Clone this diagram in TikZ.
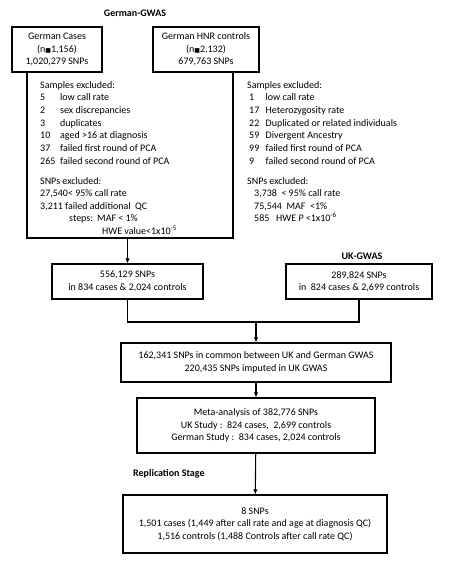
\documentclass[tikz,border=0pt]{standalone}
\usepackage{fontspec}
\setmainfont{Carlito}
\newfontfamily\symfont{DejaVu Sans}
\usetikzlibrary{arrows.meta}
\newcommand{\sq}{{\symfont\fontsize{6}{6}\selectfont ■}}

\begin{document}
\begin{tikzpicture}[x=1pt,y=-1pt,
  box/.style={draw, line width=1.1pt, align=center, inner sep=0pt, font=\fontsize{10}{12.5}\selectfont},
  txt/.style={anchor=base west, inner sep=0pt, font=\fontsize{10}{12.5}\selectfont},
  head/.style={inner sep=0pt, font=\fontsize{10}{12}\selectfont\bfseries},
  link/.style={line width=1.1pt},
  arr/.style={link, -{Latex[length=5pt,width=4.5pt]}}]
  \useasboundingbox[fill=white] (0,0) rectangle (469,563);
  %Headings
  \node[head] (gerhead) at (135,13) {German-GWAS};
  \node[head] (ukhead) at (362,256) {UK-GWAS};
  \node[head, anchor=west] (rephead) at (133,474) {Replication Stage};
  %The two German boxes on top
  \node[box, minimum width=90, minimum height=45] (cases) at (57,49.5) {German Cases\\(n\sq1,156)\\1,020,279 SNPs};
  \node[box, minimum width=106, minimum height=45] (hnr) at (206,49.5) {German HNR controls\\(n\sq2,132)\\679,763 SNPs};
  %Open box below them
  \coordinate (qcbl) at (27,238);
  \coordinate (qcbr) at (233,238);
  \draw[link] (cases.south -| qcbl) -- (qcbl) -- (qcbr) -- (hnr.south -| qcbr);
  %Exclusions for the cases
  \node[txt] (gsx) at (40,88) {Samples excluded:};
  \foreach \n/\t [count=\i] in {5/low call rate, 2/sex discrepancies, 3/duplicates, 10/aged >16 at diagnosis, 37/failed first round of PCA, 265/failed second round of PCA}{
    \node[txt] (gsn\i) at (40,{88+\i*12.7}) {\n};
    \node[txt] (gst\i) at (60,{88+\i*12.7}) {\t};
  }
  \node[txt] (gpx) at (40,184) {SNPs excluded:};
  \node[txt] (gp1) at (40,196.5) {27,540< 95\% call rate};
  \node[txt] (gp2) at (40,209) {3,211 failed additional\ \ QC};
  \node[txt] (gp3) at (69,221.5) {steps:};
  \node[txt] (gp4) at (97,221.5) {MAF < 1\%};
  \node[txt] (gp5) at (102,234) {HWE value<1x10\textsuperscript{-5}};
  %Exclusions for the controls
  \node[txt] (csx) at (247,88) {Samples excluded:};
  \foreach \n/\t [count=\i] in {1/low call rate, 17/Heterozygosity rate, 22/Duplicated or related individuals, 59/Divergent Ancestry, 99/failed first round of PCA, 9/failed second round of PCA}{
    \node[txt] (csn\i) at (249,{88+\i*12.7}) {\n};
    \node[txt] (cst\i) at (265.5,{88+\i*12.7}) {\t};
  }
  \node[txt] (cpx) at (247,184) {SNPs excluded:};
  \node[txt] (cp1) at (254,196.5) {3,738\ \ < 95\% call rate};
  \node[txt] (cp2) at (254,209) {75,544\ \ MAF\ \ <1\%};
  \node[txt] (cp3) at (254,221.5) {585\ \ \ HWE \textit{P} <1x10\textsuperscript{-6}};
  %Merged data sets
  \node[box, minimum width=151, minimum height=35] (germ) at (127.5,281.5) {556,129 SNPs\\in 834 cases \& 2,024 controls};
  \node[box, minimum width=146, minimum height=35] (uk) at (359,281.5) {289,824 SNPs\\in\ \ 824 cases \& 2,699 controls};
  \node[box, minimum width=270, minimum height=39] (common) at (256,362.5) {162,341 SNPs in common between UK and German GWAS\\220,435 SNPs imputed in UK GWAS};
  \node[box, minimum width=238, minimum height=55] (meta) at (256,425.5) {Meta-analysis of 382,776 SNPs\\UK Study :\ \ 824 cases,\ \ 2,699 controls\\German Study :\ \ 834 cases, 2,024 controls};
  \node[box, minimum width=264, minimum height=58] (repl) at (255,524) {8 SNPs\\1,501 cases (1,449 after call rate and age at diagnosis QC)\\1,516 controls (1,488 Controls after call rate QC)};
  %Connectors
  \coordinate (join) at (256,322);
  \draw[arr] (germ.north |- qcbl) -- (germ);
  \draw[link] (germ.south) |- (join) -| (uk.south);
  \draw[arr] (join) -- (common);
  \draw[arr] (common) -- (meta);
  \draw[arr] (meta) -- (repl);
\end{tikzpicture}
\end{document}
